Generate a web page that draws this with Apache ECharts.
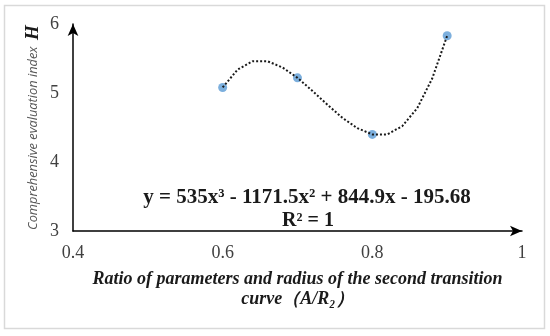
<!DOCTYPE html>
<html><head><meta charset="utf-8">
<script src="https://cdn.jsdelivr.net/npm/echarts@6/dist/echarts.min.js"></script>
<style>html,body{margin:0;padding:0;background:#fff}#c{width:550px;height:336px}</style>
</head><body><div id="c"></div>
<script>
// Data
var pointX = [0.6, 0.7, 0.8, 0.9];
var pointH = [5.08, 5.22, 4.40, 5.83];
var trendX = [0.60, 0.62, 0.64, 0.66, 0.68, 0.70, 0.72, 0.74, 0.76, 0.78, 0.80, 0.82, 0.84, 0.86, 0.88, 0.90];
var trendH = [5.08, 5.34, 5.46, 5.46, 5.37, 5.22, 5.03, 4.83, 4.64, 4.49, 4.40, 4.40, 4.52, 4.78, 5.21, 5.83];
var xTicks = [0.4, 0.6, 0.8, 1];
var yTicks = [3, 4, 5, 6];
var equationText = 'y = 535x³ - 1171.5x² + 844.9x - 195.68';
var r2Text = 'R² = 1';

var chart = echarts.init(document.getElementById('c'));
function pairs(xs, ys){ return xs.map(function(x,i){ return [x, ys[i]]; }); }
chart.setOption({
  animation: false,
  backgroundColor: '#fff',
  grid: { left: 73, right: 28, top: 24, bottom: 105, containLabel: false },
  xAxis: {
    type: 'value', min: xTicks[0], max: xTicks[xTicks.length-1], interval: 0.2,
    axisLine: { show: true, symbol: ['none','arrow'], symbolSize: [8, 12], lineStyle: { color: '#000', width: 1.5 } },
    axisTick: { show: false }, splitLine: { show: false },
    axisLabel: { fontFamily: 'Liberation Serif', fontSize: 18, color: '#404040', margin: 13 },
    name: '{a|Ratio of parameters and radius of the second transition}\n{a|curve（A/R₂）}',
    nameLocation: 'middle', nameGap: 38, nameMoveOverlap: false,
    nameTextStyle: { rich: { a: { fontFamily: 'Liberation Serif', fontStyle: 'italic', fontWeight: 'bold', fontSize: 18, color: '#1a1a1a', lineHeight: 20 } } }
  },
  yAxis: {
    type: 'value', min: yTicks[0], max: yTicks[yTicks.length-1], interval: 1,
    axisLine: { show: true, symbol: ['none','arrow'], symbolSize: [8, 12], lineStyle: { color: '#000', width: 1.5 } },
    axisTick: { show: false }, splitLine: { show: false },
    axisLabel: { fontFamily: 'Liberation Serif', fontSize: 18, color: '#404040', margin: 14 },
    name: '{a|Comprehensive evaluation index  }{b|H}',
    nameLocation: 'middle', nameGap: 30, nameRotate: 90, nameMoveOverlap: false,
    nameTextStyle: { rich: {
      a: { fontFamily: 'Open Sans', fontStyle: 'italic', fontSize: 12.8, color: '#595959' },
      b: { fontFamily: 'Liberation Serif', fontStyle: 'italic', fontWeight: 'bold', fontSize: 19, color: '#1a1a1a' }
    } }
  },
  series: [
    { type: 'line', data: pairs(trendX, trendH), smooth: false, showSymbol: false, z: 3,
      lineStyle: { color: '#1a1a1a', width: 2, type: [2, 2] } },
    { type: 'scatter', data: pairs(pointX, pointH), symbolSize: 9, z: 2,
      itemStyle: { color: '#5B9BD5' } }
  ],
  graphic: [
    { type: 'rect', shape: { x: 4.5, y: 5.5, width: 540, height: 323 }, style: { fill: 'none', stroke: '#d9d9d9', lineWidth: 1.5 }, silent: true },
    { type: 'text', x: 307, y: 198, style: { text: equationText, fontFamily: 'Liberation Serif', fontWeight: 'bold', fontSize: 21, fill: '#1a1a1a', align: 'center', verticalAlign: 'middle' } },
    { type: 'text', x: 308, y: 221, style: { text: r2Text, fontFamily: 'Liberation Serif', fontWeight: 'bold', fontSize: 20, fill: '#1a1a1a', align: 'center', verticalAlign: 'middle' } }
  ]
});
</script></body></html>
